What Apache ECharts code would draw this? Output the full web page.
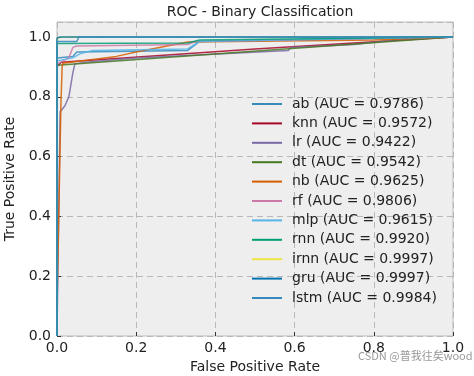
<!DOCTYPE html>
<html><head><meta charset="utf-8">
<script src="https://cdn.jsdelivr.net/npm/echarts@6/dist/echarts.min.js"></script>
<style>html,body{margin:0;padding:0;background:#fff}#c{width:474px;height:376px}</style>
</head><body><div id="c"></div>
<script>
const xTicks = [0, 0.2, 0.4, 0.6, 0.8, 1.0];
const yTicks = [0, 0.2, 0.4, 0.6, 0.8, 1.0];
const names = ['ab','knn','lr','dt','nb','rf','mlp','rnn','irnn','gru','lstm'];
const aucs = ['0.9786','0.9572','0.9422','0.9542','0.9625','0.9806','0.9615','0.9920','0.9997','0.9997','0.9984'];
const colors = ['#348ABD','#A60628','#7A68A6','#467821','#D55E00','#CC79A7','#56B4E9','#009E73','#F0E442','#0072B2','#348ABD'];
const ab   = [[0,0],[0,0.93],[0.04,0.935],[0.05,0.95],[0.33,0.955],[0.36,0.985],[1,1]];
const knn  = [[0,0],[0,0.9],[0.01,0.915],[0.5,0.96],[1,1]];
const lr   = [[0,0],[0,0.01],[0.005,0.015],[0.008,0.75],[0.02,0.77],[0.03,0.8],[0.04,0.88],[0.045,0.91],[0.07,0.915],[0.2,0.93],[0.585,0.955],[0.59,0.965],[0.75,0.975],[0.85,0.99],[1,1]];
const dt   = [[0,0],[0,0.905],[0.005,0.91],[1,1]];
const nb   = [[0,0],[0,0.1],[0.01,0.78],[0.013,0.9],[0.015,0.912],[0.05,0.918],[0.15,0.935],[0.2,0.95],[0.33,0.983],[0.8,0.99],[1,1]];
const rf   = [[0,0],[0,0.91],[0.03,0.93],[0.04,0.965],[0.05,0.97],[0.33,0.975],[0.35,0.985],[1,1]];
const mlp  = [[0,0],[0,0.92],[0.04,0.93],[0.06,0.945],[0.09,0.955],[0.33,0.96],[0.36,0.985],[1,1]];
const rnn  = [[0,0],[0,0.978],[0.33,0.98],[0.36,0.99],[1,1]];
const irnn = [[0,0],[0,0.995],[0.01,1],[1,1]];
const gru  = [[0,0],[0,0.996],[0.008,1],[1,1]];
const lstm = [[0,0],[0,0.985],[0.05,0.985],[0.055,1],[1,1]];
const curves = [ab, knn, lr, dt, nb, rf, mlp, rnn, irnn, gru, lstm];

const FONT = 'DejaVu Sans';
const chart = echarts.init(document.getElementById('c'), null, {renderer:'canvas'});
chart.setOption({
  animation:false,
  textStyle:{fontFamily:FONT},
  title:{text:'ROC - Binary Classification', left:255, top:0, textAlign:'center',
    textStyle:{fontFamily:FONT, fontSize:14, fontWeight:'normal', color:'#222'}},
  grid:{left:57, right:21, top:22, bottom:40, show:true, backgroundColor:'#eeeeee', borderColor:'#bcbcbc', borderWidth:1,
    containLabel:false, outerBoundsMode:'none'},
  xAxis:{type:'value', min:0, max:1, interval:0.2,
    name:'False Positive Rate', nameLocation:'middle', nameGap:20,
    nameTextStyle:{fontFamily:FONT, fontSize:14, color:'#222'},
    axisLine:{show:false},
    axisTick:{show:true, inside:true, length:4, lineStyle:{color:'#333'}},
    axisLabel:{fontFamily:FONT, fontSize:14, color:'#222', margin:5, formatter:v=>v.toFixed(1)},
    splitLine:{show:true, lineStyle:{type:[6,4], color:'#b8b8b8', width:1}}},
  yAxis:{type:'value', min:0, max:1.05, interval:0.2,
    name:'True Positive Rate', nameLocation:'middle', nameGap:37, nameRotate:90,
    nameTextStyle:{fontFamily:FONT, fontSize:14, color:'#222'},
    axisLine:{show:false},
    axisTick:{show:true, inside:true, length:4, lineStyle:{color:'#333'}},
    axisLabel:{fontFamily:FONT, fontSize:14, color:'#222', margin:6, showMaxLabel:false,
      formatter:v=> v>1.001 ? '' : v.toFixed(1)},
    splitLine:{show:true, lineStyle:{type:[6,4], color:'#b8b8b8', width:1}}},
  legend:{orient:'vertical', left:247, top:92, itemWidth:30, itemHeight:2, itemGap:5.4, icon:'rect',
    textStyle:{fontFamily:FONT, fontSize:14, color:'#222', padding:[0,0,0,5]},
    data:names.map((n,i)=>n+' (AUC = '+aucs[i]+')')},
  series:curves.map((d,i)=>({
    name:names[i]+' (AUC = '+aucs[i]+')', type:'line', data:d, showSymbol:false, symbol:'none',
    color:colors[i], lineStyle:{width:1.5, color:colors[i], opacity:0.85}, z:2+i
  })),
  graphic:[{type:'text', left:358, top:350, style:{text:'CSDN @普我往矣wood', fill:'#999', font:'11px "Noto Sans CJK SC", "DejaVu Sans"'}}]
});
</script></body></html>
